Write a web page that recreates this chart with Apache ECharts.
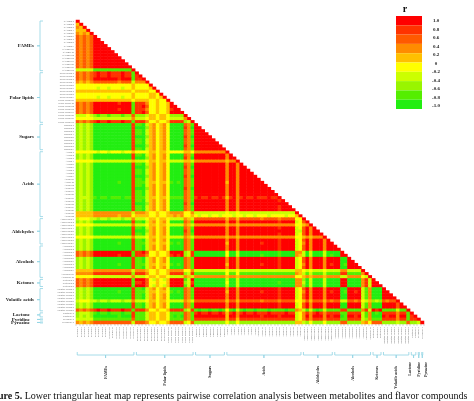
<!DOCTYPE html>
<html><head><meta charset="utf-8">
<script src="https://cdn.jsdelivr.net/npm/echarts@6/dist/echarts.min.js"></script>
<style>html,body{margin:0;padding:0;background:#fff}#c{width:474px;height:401px}</style>
</head><body><div id="c"></div>
<script>
// group names and sizes (number of variables per group)
var groupNames = ['FAMEs','Polar lipids','Sugars','Acids','Aldehydes','Alcohols','Ketones','Volatile acids','Lactone','Pyridine','Pyrazine'];
var groupSizes = [17,17,9,22,9,11,3,8,2,1,1];
var famesLoad  = [0.5,0.35,0.45,0.3,0.5,0.9,0.95,0.9,0.9,0.95,0.9,0.9,0.85,0.95,0.9,0.9,-0.7];
var polarLoad  = [0.8,0.8,0.85,0.4,-0.1,-0.2,0.1,-0.15,-0.2,0.05,0.85,0.9,0.85,0.9,-0.6,-0.3,0.8];
var sugarLoad  = [-0.9,-0.95,-0.9,-0.9,-0.95,-0.9,-0.9,-0.95,-0.9];
var acidLoad   = [-0.2,-0.9,-0.95,-0.25,-0.9,-0.95,-0.9,-0.9,-0.95,-0.9,-0.85,-0.9,-0.95,-0.9,-0.9,-0.8,-0.9,-0.95,-0.9,-0.9,0.3,0.2];
var aldLoad    = [-0.4,-0.9,-0.3,-0.9,-0.95,-0.9,-0.3,-0.9,-0.85];
var alcLoad    = [-0.9,-0.9,0.9,0.85,-0.9,-0.9,-0.85,-0.9,0.3,0.7,-0.3];
var ketLoad    = [0.95,0.9,0.95];
var vaLoad     = [-0.9,-0.85,-0.9,-0.9,-0.4,-0.9,-0.9,0.8];
var lacLoad    = [-0.8,-0.85];
var pyrdLoad   = [-0.7];
var pyrzLoad   = [0.5];
var legendTicks = ['1.0','0.8','0.6','0.4','0.2','0','-0.2','-0.4','-0.6','-0.8','-1.0'];

var loads = [].concat(famesLoad,polarLoad,sugarLoad,acidLoad,aldLoad,alcLoad,ketLoad,vaLoad,lacLoad,pyrdLoad,pyrzLoad);
var names = [];
groupNames.forEach(function(g,gi){for(var k=0;k<groupSizes[gi];k++)names.push(g+' '+(k+1));});
var N = names.length;
var data = [];
for (var i=0;i<N;i++) for (var j=0;j<=i;j++){
  var v = i===j?1:Math.max(-1,Math.min(1,loads[i]*loads[j]*1.1));
  data.push([j,i,+v.toFixed(2)]);
}
var cols = ['#ff0000','#ff3300','#ff5a00','#ff8c00','#ffc000','#ffff00','#ccff00','#99f500','#55ee00','#22ee11'];
var pieces = [];
for (var p=0;p<10;p++){var hi=1-0.2*p, lo=hi-0.2; pieces.push({gte:+lo.toFixed(1)-(p===9?0.01:0), lt:+hi.toFixed(1)+(p===0?0.01:0), color:cols[p]});}

var G={left:76,top:20,width:348,height:304};
var chart = echarts.init(document.getElementById('c'));
chart.setOption({
  animation:false,
  grid:G,
  xAxis:{type:'category',data:names,position:'bottom',axisLine:{show:false},axisTick:{show:true,length:2,lineStyle:{color:'#999',width:0.4}},
    axisLabel:{rotate:90,fontSize:2.5,color:'#777',interval:0,margin:3},splitLine:{show:false}},
  yAxis:{type:'category',data:names,inverse:true,axisLine:{show:false},axisTick:{show:false},
    axisLabel:{fontSize:2.5,color:'#777',interval:0,margin:2}},
  visualMap:{type:'piecewise',pieces:pieces,orient:'vertical',left:396,top:16,padding:0,itemWidth:26,itemHeight:9.3,itemGap:0,
    showLabel:false,itemSymbol:'rect',selectedMode:false,textStyle:{fontSize:0},dimension:2},
  series:[{type:'heatmap',data:data,itemStyle:{borderWidth:0}}]
});

// annotations derived from axis scales
var els=[];
var serif='Liberation Serif';
var bc='#8fd3e3';
var start=0;
groupNames.forEach(function(g,gi){
  var a=start, b=start+groupSizes[gi]-1; start+=groupSizes[gi];
  var y0=chart.convertToPixel({yAxisIndex:0},names[a])-1, y1=chart.convertToPixel({yAxisIndex:0},names[b])+1;
  var x0=chart.convertToPixel({xAxisIndex:0},names[a])-1, x1=chart.convertToPixel({xAxisIndex:0},names[b])+1;
  var ym=(y0+y1)/2, xm=(x0+x1)/2;
  els.push({type:'polyline',shape:{points:[[43,y0+0.5],[40,y0+0.5],[40,ym],[37,ym],[40,ym],[40,y1-0.5],[43,y1-0.5]]},style:{stroke:bc,fill:null,lineWidth:0.8}});
  els.push({type:'polyline',shape:{points:[[x0+0.5,352],[x0+0.5,355],[xm,355],[xm,358],[xm,355],[x1-0.5,355],[x1-0.5,352]]},style:{stroke:bc,fill:null,lineWidth:0.8}});
  var small = gi>=8;
  els.push({type:'text',x:small?30:34,y:ym,style:{text:g,font:'bold 5px "'+serif+'"',fill:'#222',align:'right',verticalAlign:'middle'}});
  els.push({type:'text',x:xm+(small?(gi-9)*4:0),y:small?362:366,rotation:Math.PI/2,style:{text:g,font:'bold 4px "'+serif+'"',fill:'#222',align:'right',verticalAlign:'middle'}});
});
legendTicks.forEach(function(t,k){
  els.push({type:'text',x:436,y:20.7+k*8.55,z:100,style:{text:t,font:'bold 5px "'+serif+'"',fill:'#222',align:'center',verticalAlign:'middle'}});
});
els.push({type:'text',x:405,y:9,style:{text:'r',font:'bold 10px "'+serif+'"',fill:'#111',align:'center',verticalAlign:'middle'}});
els.push({type:'text',x:-2,y:396,style:{rich:{b:{font:'bold 10px "'+serif+'"',fill:'#111'},n:{font:'10px "'+serif+'"',fill:'#111'}},
  text:'{b|ure 5.}{n| Lower triangular heat map represents pairwise correlation analysis between metabolites and flavor compounds}',verticalAlign:'middle'}});
chart.setOption({graphic:{elements:els}});
</script></body></html>
